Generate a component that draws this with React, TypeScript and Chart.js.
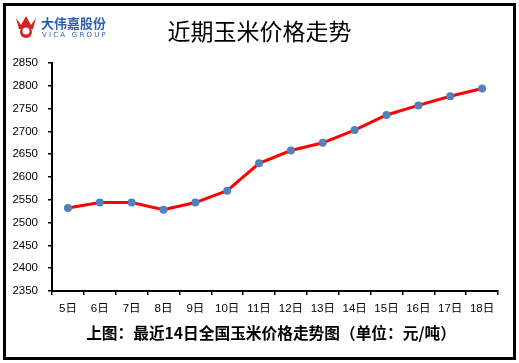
import React, { useEffect, useRef } from "react";
import { Chart, registerables } from "chart.js";

Chart.register(...registerables);

const categories = ["5日", "6日", "7日", "8日", "9日", "10日", "11日", "12日", "13日", "14日", "15日", "16日", "17日", "18日"];
const prices = [2532, 2544, 2544, 2528, 2544, 2570, 2630, 2658, 2675, 2703, 2736, 2757, 2777, 2794];
const yMin = 2350;
const yMax = 2850;
const yStep = 50;
const titleText = "近期玉米价格走势";
const captionText = "上图：最近14日全国玉米价格走势图（单位：元/吨）";
const brandCn = "大伟嘉股份";
const brandEn = "VICA GROUP";

export default function App() {
  const ref = useRef<HTMLCanvasElement | null>(null);

  useEffect(() => {
    if (!ref.current) return;
    const chart = new Chart(ref.current, {
      type: "line",
      data: {
        labels: categories,
        datasets: [
          {
            data: prices,
            borderColor: "#ff0000",
            borderWidth: 3,
            pointBackgroundColor: "#4f81bd",
            pointBorderColor: "#4f81bd",
            pointRadius: 4,
            pointBorderWidth: 0,
            tension: 0,
            fill: false,
          },
        ],
      },
      options: {
        animation: false,
        responsive: false,
        events: [],
        layout: { padding: { left: 0, right: 21, top: 63, bottom: 42 } },
        plugins: { legend: { display: false }, tooltip: { enabled: false }, title: { display: false } },
        scales: {
          x: {
            type: "category",
            offset: true,
            grid: { display: true, drawOnChartArea: false, drawTicks: true, tickLength: 4, color: "#000", lineWidth: 1.5, offset: true },
            border: { display: true, color: "#000", width: 2 },
            ticks: { color: "#000", font: { family: "'Liberation Sans', 'Noto Sans CJK SC'", size: 11.5 }, padding: 7, maxRotation: 0, autoSkip: false },
            afterFit: (s: any) => { s.height = 30; },
          },
          y: {
            min: yMin,
            max: yMax,
            grid: { display: true, drawOnChartArea: false, drawTicks: true, tickLength: 4, color: "#000", lineWidth: 1.5 },
            border: { display: true, color: "#000", width: 2 },
            ticks: { stepSize: yStep, color: "#000", font: { family: "'Liberation Sans', sans-serif", size: 11.5 }, padding: 10, callback: (v: any) => String(v) },
            afterFit: (s: any) => { s.width = 52; },
          },
        },
      },
    });
    return () => chart.destroy();
  }, []);

  return (
    <div style={{ position: "absolute", left: 0, top: 0, width: 519, height: 363, background: "#fff", overflow: "hidden" }}>
      <div style={{ position: "absolute", left: 3, top: 3, width: 507, height: 351, border: "3px solid #000", boxSizing: "content-box" }} />
      <canvas ref={ref} width={519} height={363} style={{ position: "absolute", left: 0, top: 0 }} />
      <svg width="22" height="24" viewBox="0 0 22 24" style={{ position: "absolute", left: 15, top: 15 }}>
        <path d="M1 3 L6 10 L11 1 L16 10 L21 3 L18 14 L4 14 Z" fill="#d42027" />
        <circle cx="11" cy="17" r="6" fill="#d42027" />
        <circle cx="11" cy="16" r="3.5" fill="#fff" />
      </svg>
      <div style={{ position: "absolute", left: 41, top: 16, fontFamily: "'Noto Sans CJK SC'", fontSize: 13, fontWeight: 700, color: "#2b5fb0", lineHeight: "14px", letterSpacing: 0 }}>
        {brandCn}
      </div>
      <div style={{ position: "absolute", left: 42, top: 31, fontFamily: "'DejaVu Sans', sans-serif", fontSize: 7, color: "#2b5fb0", lineHeight: "8px", letterSpacing: 2.2 }}>
        {brandEn}
      </div>
      <div style={{ position: "absolute", left: 0, width: 519, top: 16, textAlign: "center", fontFamily: "'Noto Sans CJK SC'", fontSize: 23, fontWeight: 400, color: "#000", lineHeight: "28px" }}>
        {titleText}
      </div>
      <div style={{ position: "absolute", left: 23, width: 496, top: 322, textAlign: "center", fontFamily: "'Noto Sans CJK SC'", fontSize: 15.7, fontWeight: 700, color: "#000", lineHeight: "22px" }}>
        {captionText}
      </div>
    </div>
  );
}
